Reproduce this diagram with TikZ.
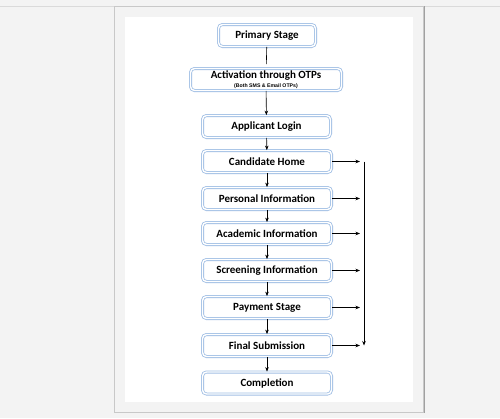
\documentclass[tikz,border=0pt]{standalone}
\usepackage{fontspec}
\setmainfont{Carlito}
\newfontfamily\subfont{Liberation Sans}
\usetikzlibrary{arrows.meta}
\definecolor{bgc}{RGB}{243,243,243}
\definecolor{panelline}{RGB}{200,200,200}
\definecolor{topline}{RGB}{218,218,218}
\definecolor{boxblue}{RGB}{160,190,228}
\tikzset{
  stagebox/.style={draw=boxblue, line width=0.8pt, double=white, double distance=1.4pt,
    rounded corners=4pt, fill=white, minimum height=22pt, inner sep=1pt,
    font=\fontsize{11}{12}\selectfont\bfseries, align=center},
  flow/.style={draw=black, line width=0.6pt, -{Stealth[length=4.5pt,width=3.5pt]}},
  plain/.style={draw=black, line width=0.6pt}
}
\begin{document}
\begin{tikzpicture}[x=1pt,y=-1pt]
\useasboundingbox (0,0) rectangle (500,418);
\fill[bgc] (0,0) rectangle (500,418);
\draw[topline, line width=1pt] (0,6) -- (500,6);
\draw[panelline, line width=0.8pt, fill=bgc] (114.5,6) rectangle (423.5,412);
\draw[panelline!80!black, line width=0.6pt] (424.5,6) -- (424.5,412.5);
\fill[white] (125,17) rectangle (413,402);

\node[stagebox, minimum width=97pt] (primary) at (267,35.5) {Primary Stage};
\node[stagebox, minimum width=151pt] (otp) at (266,79.5) {Activation through OTPs\\[-3pt]{\subfont\bfseries\fontsize{5.2}{6}\selectfont (Both SMS \& Email OTPs)}};
\node[stagebox, minimum width=128pt] (login) at (266.5,126.5) {Applicant Login};
\node[stagebox, minimum width=129pt] (home) at (267,161.5) {Candidate Home};
\node[stagebox, minimum width=129pt] (personal) at (267,198.5) {Personal Information};
\node[stagebox, minimum width=129pt] (academic) at (267,233.5) {Academic Information};
\node[stagebox, minimum width=129pt] (screening) at (267,270.5) {Screening Information};
\node[stagebox, minimum width=129pt] (payment) at (267,307.5) {Payment Stage};
\node[stagebox, minimum width=129pt] (final) at (267,345.5) {Final Submission};
\node[stagebox, minimum width=129pt] (completion) at (267,383) {Completion};

\path[plain, shorten >=4pt] (primary) -- (otp);
\path[flow] (otp) -- (login);
\path[flow] (login) -- (home);
\path[flow] (home) -- (personal);
\path[flow] (personal) -- (academic);
\path[flow] (academic) -- (screening);
\path[flow] (screening) -- (payment);
\path[flow] (payment) -- (final);
\path[flow] (final) -- (completion);

\coordinate (vtop) at (364,161.5);
\coordinate (vbot) at (364,345.5);
\foreach \n in {home,personal,academic,screening,payment,final}{
  \coordinate (\n-end) at (360,0 |- \n.east);
  \path[flow] (\n.east) -- (\n-end);
}
\path[flow] (vtop) -- (vbot);
\end{tikzpicture}
\end{document}
